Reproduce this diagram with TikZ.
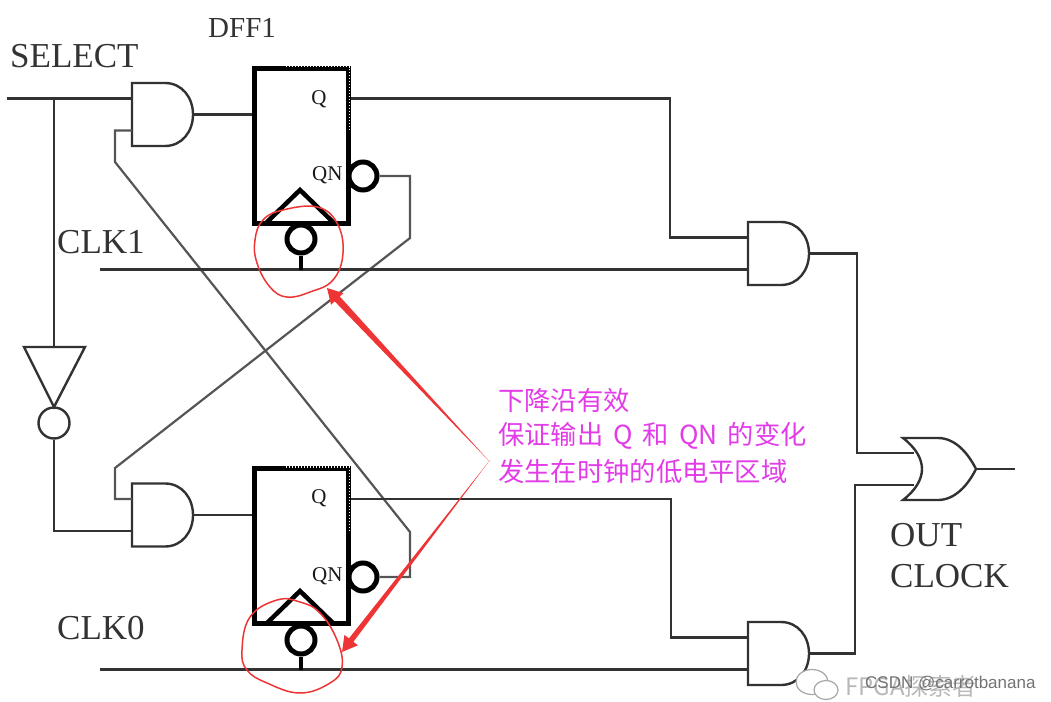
\documentclass[tikz,border=0pt]{standalone}
\usepackage{fontspec}
\setmainfont{Liberation Serif}
\setsansfont{Liberation Sans}
\newfontfamily\cjk{Noto Sans CJK SC}
\usetikzlibrary{shapes.geometric,calc}
\definecolor{wirecol}{RGB}{50,50,50}
\definecolor{crosscol}{RGB}{85,85,85}
\definecolor{markred}{RGB}{238,52,52}
\definecolor{notepink}{RGB}{226,60,232}
\tikzset{
  wire/.style={draw=wirecol, line width=2.4pt},
  crosswire/.style={draw=crosscol, line width=2.2pt},
  ffbox/.style={draw=black, line width=5pt, inner sep=0pt, minimum width=94pt, minimum height=155pt},
  ffbubble/.style={circle, draw=black, line width=5pt, inner sep=0pt, minimum size=28pt},
  invbubble/.style={circle, draw=wirecol, line width=2.4pt, inner sep=0pt, minimum size=31pt},
  label/.style={inner sep=0pt, anchor=west, text=black!80, font=\fontsize{35}{37}\selectfont},
  pinlabel/.style={inner sep=0pt, text=black!90, font=\fontsize{21}{23}\selectfont},
  note/.style={inner sep=0pt, anchor=west, text=notepink, font=\fontsize{26.3}{30}\selectfont\cjk},
  redloop/.style={draw=markred, line width=1.5pt},
  redarrow/.style={fill=markred},
  dither/.style={draw=white, line width=1.5pt, dash pattern=on 1pt off 2pt},
  andgate/.pic={
    \draw[wire] (0,-31.5) -- (33,-31.5) .. controls (50,-31.5) and (61,-17) .. (61,0)
      .. controls (61,17) and (50,31.5) .. (33,31.5) -- (0,31.5) -- cycle;
    \coordinate (-a) at (0,-16);
    \coordinate (-b) at (0,16);
    \coordinate (-o) at (61,0);
  },
  orgate/.pic={
    \draw[wire] (0,-31) -- (35,-31) .. controls (52,-31) and (65,-16) .. (73,0)
      .. controls (65,16) and (52,31) .. (35,31) -- (0,31)
      .. controls (13,21) and (19,10) .. (19,0) .. controls (19,-10) and (13,-21) .. (0,-31) -- cycle;
    \coordinate (-a) at (11,-16);
    \coordinate (-b) at (11,16);
    \coordinate (-o) at (73,0);
  },
}
\newcommand{\taparrow}[3]{%
  \coordinate (ab) at ($(#2)!15pt!(#1)$);
  \fill[redarrow] (#1) -- ($(ab)!#3!90:(#2)$) -- ($(ab)!8.5pt!90:(#2)$) -- (#2)
    -- ($(ab)!8.5pt!-90:(#2)$) -- ($(ab)!#3!-90:(#2)$) -- cycle;
}
\begin{document}
\begin{tikzpicture}[x=1pt,y=-1pt]
\useasboundingbox (0,0) rectangle (1051,701);
% gates
\pic (and1) at (132,114.5) {andgate};
\pic (and2) at (132,515) {andgate};
\pic (and3) at (748,253.5) {andgate};
\pic (and4) at (748,653.5) {andgate};
\pic (or1) at (903,469) {orgate};
% flip flops
\node[ffbox] (dff1) at (301,145.5){};
\node[ffbox] (dff0) at (301,546){};
\draw[dither] (286,66.5) -- (349.5,66.5) -- (349.5,130);
\draw[dither] (286,467) -- (349.5,467) -- (349.5,530);
\node[ffbubble] (qn1) at (363,176){};
\node[ffbubble] (qn0) at (363,577){};
\node[ffbubble] (ck1) at (301,239){};
\node[ffbubble] (ck0) at (301,640){};
\coordinate (tri1a) at (266,223);
\coordinate (tri1b) at (300,190);
\coordinate (tri1c) at (334,223);
\draw[black, line width=4.5pt] (tri1a) -- (tri1b) -- (tri1c);
\coordinate (tri0a) at (266,624);
\coordinate (tri0b) at (300,591);
\coordinate (tri0c) at (334,624);
\draw[black, line width=4.5pt] (tri0a) -- (tri0b) -- (tri0c);
% select and inverter
\coordinate (sel) at (7,98.5);
\coordinate (selb) at (54,98.5);
\coordinate (invl) at (24,347);
\coordinate (invr) at (85,347);
\coordinate (invt) at (54,347);
\coordinate (invp) at (54,407);
\node[invbubble] (invc) at (54,423){};
\coordinate (selc) at (54,531);
\draw[wire] (sel) -- (and1-a);
\draw[wire] (selb) -- (invt);
\draw[wire, line join=miter] (invl) -- (invr) -- (invp) -- cycle;
\draw[wire] (invc) -- (selc) -- (and2-b);
% and to flip flop
\draw[wire] (and1-o) -- (dff1.west |- and1-o);
\draw[wire] (and2-o) -- (dff0.west |- and2-o);
% cross coupling
\coordinate (qa1) at (410,176);
\coordinate (qa2) at (410,238);
\coordinate (qa3) at (115,468);
\coordinate (qa4) at (115,499);
\draw[crosswire] (qn1) -- (qa1) -- (qa2) -- (qa3) -- (qa4) -- (and2-a);
\coordinate (qb1) at (410,577);
\coordinate (qb2) at (410,532);
\coordinate (qb3) at (115,162);
\coordinate (qb4) at (115,130.5);
\draw[crosswire] (qn0) -- (qb1) -- (qb2) -- (qb3) -- (qb4) -- (and1-b);
% Q outputs
\coordinate (q1) at (351,98.5);
\coordinate (q1a) at (670,98.5);
\coordinate (q1b) at (670,237.5);
\draw[wire] (q1) -- (q1a) -- (q1b) -- (and3-a);
\coordinate (q0) at (351,499);
\coordinate (q0a) at (671,499);
\coordinate (q0b) at (671,637.5);
\draw[wire] (q0) -- (q0a) -- (q0b) -- (and4-a);
% clocks
\coordinate (clk1) at (100,269.5);
\coordinate (clk0) at (100,669.5);
\draw[wire] (clk1) -- (and3-b);
\draw[wire] (clk0) -- (and4-b);
\coordinate (st1) at (301,269.5);
\coordinate (st0) at (301,669.5);
\draw[black, line width=4pt] (ck1) -- (st1);
\draw[black, line width=4pt] (ck0) -- (st0);
% output stage
\coordinate (o1a) at (857,253.5);
\coordinate (o1b) at (857,453);
\coordinate (o0a) at (855,653.5);
\coordinate (o0b) at (855,485);
\coordinate (out) at (1015,469);
\draw[wire] (and3-o) -- (o1a) -- (o1b) -- (or1-a);
\draw[wire] (and4-o) -- (o0a) -- (o0b) -- (or1-b);
\draw[wire] (or1-o) -- (out);
% labels
\node[label] (lsel) at (10,56){SELECT};
\node[label, font=\fontsize{29}{30}\selectfont] (ldff) at (208,28){DFF1};
\node[label] (lclk1) at (57,242){CLK1};
\node[label] (lclk0) at (57,628){CLK0};
\node[label] (lout) at (890,535){OUT};
\node[label] (lclock) at (890,576){CLOCK};
\node[pinlabel] (lq1) at (319,99){Q};
\node[pinlabel, anchor=west] (lqn1) at (312,175){QN};
\node[pinlabel] (lq0) at (319,498){Q};
\node[pinlabel, anchor=west] (lqn0) at (312,576){QN};
% notes
\node[note] (n1) at (498,401){下降沿有效};
\node[note] (n2) at (498,436){\spaceskip=10pt 保证输出 Q 和 QN 的变化};
\node[note] (n3) at (498,471){发生在时钟的低电平区域};
% red marks
\draw[redloop] plot[smooth cycle, tension=.7] coordinates {(255,240) (263,220) (283,210) (317,207) (337,223) (343,253) (333,280) (310,292) (287,297) (270,287) (257,263)};
\draw[redloop] plot[smooth cycle, tension=.7] coordinates {(242,650) (250,617) (277,600) (300,602) (320,613) (337,640) (342,667) (330,683) (300,693) (267,683) (247,670)};
\coordinate (tail1) at (490,462);
\coordinate (tip1) at (327,288);
\coordinate (tail0) at (490,460);
\coordinate (tip0) at (342,652);
\taparrow{tail1}{tip1}{3.5pt}
\taparrow{tail0}{tip0}{2.8pt}
% watermark
\node[ellipse, draw=black!35, fill=white, line width=1.2pt, minimum width=32pt, minimum height=25pt] (wxa) at (812,682){};
\node[ellipse, draw=black!35, fill=white, line width=1.2pt, minimum width=24pt, minimum height=19pt] (wxb) at (826,690){};
\node[inner sep=0pt, anchor=west, text=black!28, font=\fontsize{24}{26}\selectfont\cjk] (wm1) at (845,686){FPGA探索者};
\node[inner sep=0pt, anchor=west, text=black!55, font=\fontsize{17}{19}\selectfont\sffamily] (wm2) at (865,684){CSDN @carrotbanana};
\end{tikzpicture}
\end{document}
